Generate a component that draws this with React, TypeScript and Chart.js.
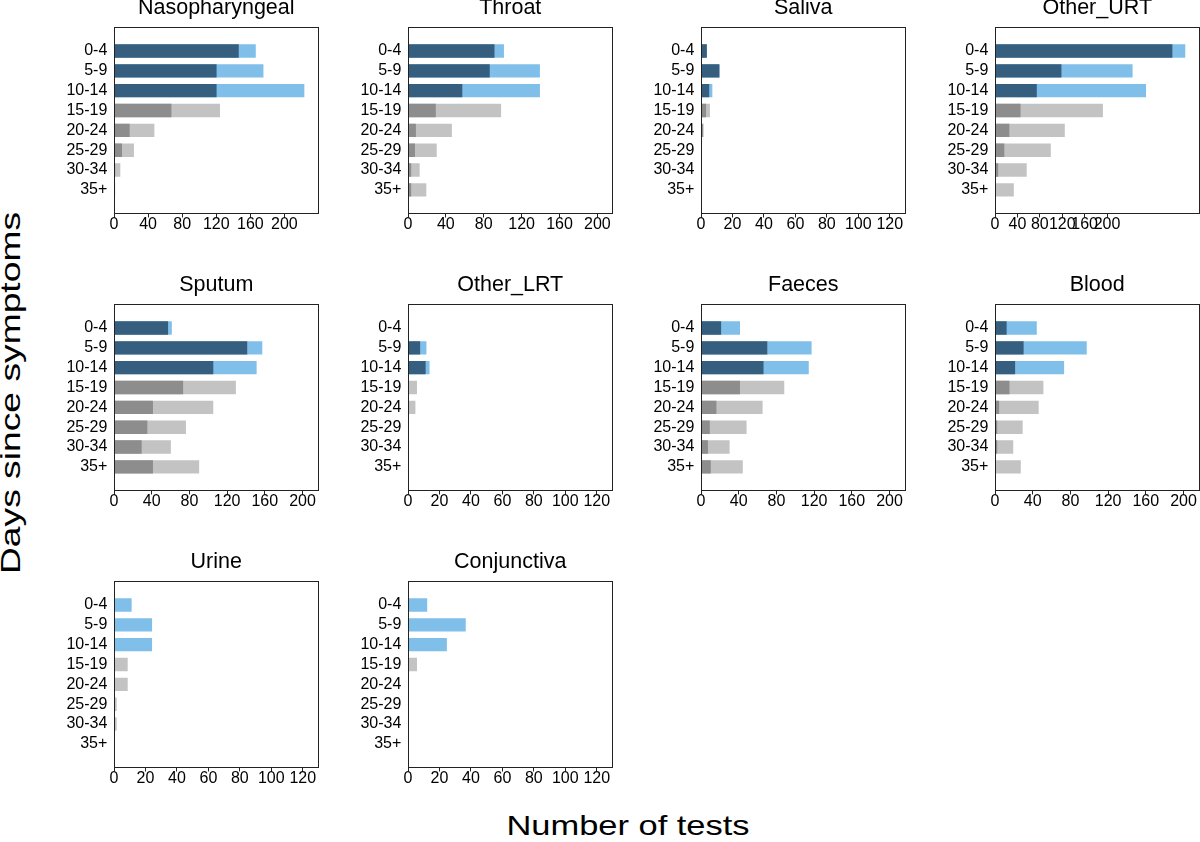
import React, { useEffect, useRef } from 'react';
import { Chart, registerables } from 'chart.js';

Chart.register(...registerables);

// ---------- data ----------
const categories = ['0-4', '5-9', '10-14', '15-19', '20-24', '25-29', '30-34', '35+'];
const ticksWide = [0, 40, 80, 120, 160, 200];
const ticksNarrow = [0, 20, 40, 60, 80, 100, 120];

const nasoPositive = [146, 120, 120, 67, 18, 9, 1, 0];
const nasoTotal = [166, 175, 223, 124, 47, 23, 7, 1];
const throatPositive = [91, 86, 57, 29, 8, 7, 3, 3];
const throatTotal = [101, 139, 139, 98, 46, 30, 12, 19];
const salivaPositive = [3.5, 11.5, 5, 3, 1, 0, 0, 0];
const salivaTotal = [3.5, 11.5, 7, 5.5, 1.5, 0, 0, 0];
const urtPositive = [316, 118, 74, 45, 25, 16, 5, 0];
const urtTotal = [339, 245, 269, 192, 124, 99, 56, 33];
const sputumPositive = [57, 141, 105, 73, 41, 35, 29, 41];
const sputumTotal = [61, 157, 151, 129, 105, 76, 60, 90];
const lrtPositive = [0, 7.5, 11, 0, 0, 0, 0, 0];
const lrtTotal = [0, 11.5, 13.5, 5.5, 4.5, 0, 0, 0];
const faecesPositive = [21, 70, 66, 41, 16, 9, 7, 10];
const faecesTotal = [41, 117, 114, 88, 65, 48, 30, 44];
const bloodPositive = [12, 30, 21, 15, 4, 2, 2, 0];
const bloodTotal = [44, 97, 73, 51, 46, 29, 19, 27];
const urinePositive = [0, 0, 0, 0, 0, 0, 0, 0];
const urineTotal = [11, 24, 24, 8.5, 8.5, 1.5, 1.5, 0];
const conjPositive = [0, 0, 0, 0, 0, 0, 0, 0];
const conjTotal = [12, 36.5, 24.5, 5.5, 0, 0, 0, 0];

const panels = [
  { title: 'Nasopharyngeal', positive: nasoPositive, total: nasoTotal, xMax: 240, xTicks: ticksWide, col: 0, row: 0 },
  { title: 'Throat', positive: throatPositive, total: throatTotal, xMax: 216, xTicks: ticksWide, col: 1, row: 0 },
  { title: 'Saliva', positive: salivaPositive, total: salivaTotal, xMax: 130, xTicks: ticksNarrow, col: 2, row: 0 },
  { title: 'Other_URT', positive: urtPositive, total: urtTotal, xMax: 365, xTicks: ticksWide, col: 3, row: 0 },
  { title: 'Sputum', positive: sputumPositive, total: sputumTotal, xMax: 217, xTicks: ticksWide, col: 0, row: 1 },
  { title: 'Other_LRT', positive: lrtPositive, total: lrtTotal, xMax: 130, xTicks: ticksNarrow, col: 1, row: 1 },
  { title: 'Faeces', positive: faecesPositive, total: faecesTotal, xMax: 217, xTicks: ticksWide, col: 2, row: 1 },
  { title: 'Blood', positive: bloodPositive, total: bloodTotal, xMax: 217, xTicks: ticksWide, col: 3, row: 1 },
  { title: 'Urine', positive: urinePositive, total: urineTotal, xMax: 130, xTicks: ticksNarrow, col: 0, row: 2 },
  { title: 'Conjunctiva', positive: conjPositive, total: conjTotal, xMax: 130, xTicks: ticksNarrow, col: 1, row: 2 },
];

// ---------- styling ----------
const FONT = '"Liberation Sans", Arial, Helvetica, sans-serif';
const DARK_BLUE = '#365e7e';
const LIGHT_BLUE = '#80bfe9';
const DARK_GRAY = '#8d8d8d';
const LIGHT_GRAY = '#c3c3c3';

const PLOT_LEFTS = [114, 408, 701, 995];
const CANVAS_TOPS = [-9, 268, 545];
const Y_AXIS_W = 80;
const X_AXIS_H = 30;
const CANVAS_W = 292;
const CANVAS_H = 253;

const framePlugin = {
  id: 'frame',
  afterDraw(chart: any) {
    const { ctx, chartArea: a } = chart;
    ctx.save();
    ctx.strokeStyle = '#222';
    ctx.lineWidth = 1;
    const l = Math.round(a.left) + 0.5;
    const t = Math.round(a.top) + 0.5;
    const r = Math.round(a.right) - 0.5;
    const b = Math.round(a.bottom) - 0.5;
    ctx.strokeRect(l, t, r - l, b - t);
    ctx.restore();
  },
};

function Panel({ panel }: { panel: any }) {
  const ref = useRef<HTMLCanvasElement>(null);
  useEffect(() => {
    const darkColors = categories.map((_, i) => (i < 3 ? DARK_BLUE : DARK_GRAY));
    const lightColors = categories.map((_, i) => (i < 3 ? LIGHT_BLUE : LIGHT_GRAY));
    const chart = new Chart(ref.current as HTMLCanvasElement, {
      type: 'bar',
      data: {
        datasets: [
          {
            label: 'positive',
            data: panel.positive.map((v: number, i: number) => ({ x: v, y: i })),
            backgroundColor: darkColors,
            borderWidth: 0,
            grouped: false,
            barThickness: 12.7,
          },
          {
            label: 'total',
            data: panel.total.map((v: number, i: number) => ({ x: v, y: i })),
            backgroundColor: lightColors,
            borderWidth: 0,
            grouped: false,
            barThickness: 12.7,
          },
        ],
      } as any,
      options: {
        indexAxis: 'y',
        responsive: false,
        animation: false,
        devicePixelRatio: 1,
        layout: { padding: { left: 0, right: 7.5, top: 0, bottom: 0.5 } },
        plugins: {
          legend: { display: false },
          tooltip: { enabled: false },
          title: {
            display: true,
            text: panel.title,
            fullSize: false,
            color: '#000',
            font: { family: FONT, size: 21.5, weight: 'normal', lineHeight: 1.2 },
            padding: { top: 4, bottom: 6.2 },
          },
        },
        scales: {
          x: {
            type: 'linear',
            min: 0,
            max: panel.xMax,
            offset: false,
            afterBuildTicks: (s: any) => {
              s.ticks = panel.xTicks.map((v: number) => ({ value: v }));
            },
            afterFit: (s: any) => {
              s.height = X_AXIS_H;
            },
            ticks: {
              autoSkip: false,
              maxRotation: 0,
              minRotation: 0,
              padding: -2.5,
              color: '#000',
              font: { family: FONT, size: 16 },
            },
            grid: { display: true, drawOnChartArea: false, drawTicks: true, tickLength: 4, color: '#222', offset: false },
            border: { display: false },
          },
          y: {
            type: 'linear',
            reverse: true,
            min: -1.21,
            max: 8.19,
            bounds: 'data',
            offset: false,
            afterBuildTicks: (s: any) => {
              s.ticks = categories.map((_, i) => ({ value: i }));
            },
            afterFit: (s: any) => {
              s.width = Y_AXIS_W;
            },
            ticks: {
              autoSkip: false,
              padding: 6.7,
              color: '#000',
              font: { family: FONT, size: 16 },
              callback: (v: any) => categories[v as number],
            },
            grid: { display: false, drawTicks: false, offset: false },
            border: { display: false },
          },
        },
      } as any,
      plugins: [framePlugin],
    });
    return () => chart.destroy();
  }, [panel]);

  const left = PLOT_LEFTS[panel.col] - Y_AXIS_W;
  const top = CANVAS_TOPS[panel.row];
  return (
    <canvas
      ref={ref}
      width={CANVAS_W}
      height={CANVAS_H}
      style={{ position: 'absolute', left, top, width: CANVAS_W, height: CANVAS_H }}
    />
  );
}

export default function App() {
  return (
    <div
      style={{
        position: 'absolute',
        left: 0,
        top: 0,
        width: 1200,
        height: 842,
        background: '#fff',
        overflow: 'hidden',
        fontFamily: FONT,
      }}
    >
      {panels.map((p) => (
        <Panel key={p.title} panel={p} />
      ))}
      <div
        style={{
          position: 'absolute',
          left: 628 - 200,
          top: 812,
          width: 400,
          textAlign: 'center',
          fontSize: 28,
          lineHeight: '28px',
          color: '#000',
          transform: 'scaleX(1.23)',
          whiteSpace: 'nowrap',
        }}
      >
        Number of tests
      </div>
      <div
        style={{
          position: 'absolute',
          left: 11 - 250,
          top: 393 - 14,
          width: 500,
          height: 28,
          textAlign: 'center',
          fontSize: 28,
          lineHeight: '28px',
          color: '#000',
          transform: 'rotate(-90deg) scaleX(1.33)',
          whiteSpace: 'nowrap',
        }}
      >
        Days since symptoms
      </div>
    </div>
  );
}
